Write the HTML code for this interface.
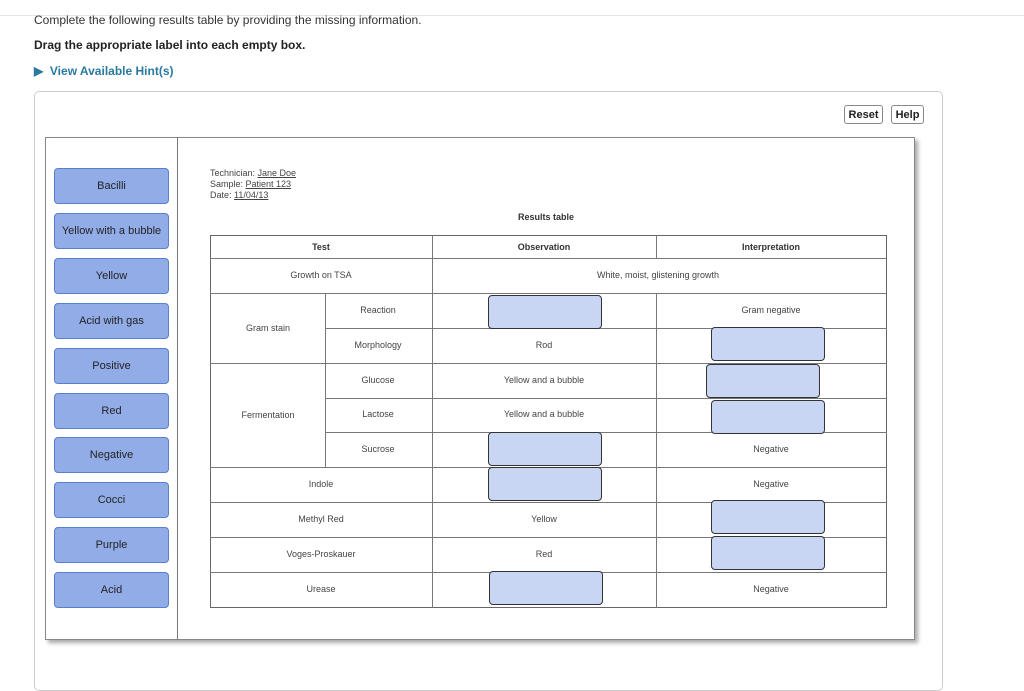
<!DOCTYPE html>
<html><head><meta charset="utf-8"><style>
*{box-sizing:border-box;margin:0;padding:0}
body{width:1024px;height:643px;background:#fff;position:relative;overflow:hidden;font-family:"Liberation Sans",Arial,sans-serif;color:#333}
.a{position:absolute}
.btn{position:absolute;left:54px;width:115px;height:36px;background:#92ace8;border:1px solid #5a7fcc;border-radius:4px;font-size:11px;color:#222;display:flex;align-items:center;justify-content:center}
.c{position:absolute;font-size:9px;color:#444;text-align:center;transform:translate(-50%,-50%);white-space:nowrap}
.b{font-weight:bold;color:#333}
.h{position:absolute;height:1px;background:#777}
.v{position:absolute;width:1px;background:#777}
.d{position:absolute;width:114px;height:34px;background:#c9d6f3;border:1px solid #333;border-radius:4px}
.rb{position:absolute;top:105px;height:19px;border:1px solid #888;border-radius:3px;font-size:11px;font-weight:bold;color:#222;display:flex;align-items:center;justify-content:center;background:#fff}
</style></head><body>
<div class="a" style="left:0;top:15px;width:1024px;height:1px;background:#e6e6e6"></div>
<div class="a" style="left:34px;top:13px;font-size:12px;color:#333">Complete the following results table by providing the missing information.</div>
<div class="a" style="left:34px;top:38px;font-size:12px;font-weight:bold;color:#222">Drag the appropriate label into each empty box.</div>
<div class="a" style="left:34px;top:64px;font-size:12px;font-weight:bold;color:#2a7aa0">&#9654;&nbsp; View Available Hint(s)</div>
<div class="a" style="left:34px;top:91px;width:909px;height:600px;border:1px solid #ccc;border-radius:5px"></div>
<div class="rb" style="left:844px;width:39px">Reset</div>
<div class="rb" style="left:891px;width:33px">Help</div>
<div class="a" style="left:45px;top:137px;width:870px;height:503px;border:1px solid #888;box-shadow:3px 3px 4px #aaa"></div>
<div class="v" style="left:177px;top:137px;height:503px"></div>
<div class="btn" style="top:168px">Bacilli</div>
<div class="btn" style="top:213px">Yellow with a bubble</div>
<div class="btn" style="top:258px">Yellow</div>
<div class="btn" style="top:303px">Acid with gas</div>
<div class="btn" style="top:348px">Positive</div>
<div class="btn" style="top:393px">Red</div>
<div class="btn" style="top:437px">Negative</div>
<div class="btn" style="top:482px">Cocci</div>
<div class="btn" style="top:527px">Purple</div>
<div class="btn" style="top:572px">Acid</div>
<div class="a" style="left:210px;top:168px;font-size:9px;line-height:11px;color:#444">Technician: <u>Jane Doe</u><br>Sample: <u>Patient 123</u><br>Date: <u>11/04/13</u></div>
<div class="c b" style="left:546px;top:217px">Results table</div>
<!-- table lines -->
<div class="a" style="left:210px;top:235px;width:677px;height:373px;border:1px solid #666"></div>
<div class="v" style="left:432px;top:235px;height:373px"></div>
<div class="v" style="left:656px;top:235px;height:24px"></div>
<div class="v" style="left:656px;top:293px;height:315px"></div>
<div class="v" style="left:325px;top:293px;height:174px"></div>
<div class="h" style="left:210px;top:258px;width:677px"></div>
<div class="h" style="left:210px;top:293px;width:677px"></div>
<div class="h" style="left:325px;top:328px;width:562px"></div>
<div class="h" style="left:210px;top:363px;width:677px"></div>
<div class="h" style="left:325px;top:398px;width:562px"></div>
<div class="h" style="left:325px;top:432px;width:562px"></div>
<div class="h" style="left:210px;top:467px;width:677px"></div>
<div class="h" style="left:210px;top:502px;width:677px"></div>
<div class="h" style="left:210px;top:537px;width:677px"></div>
<div class="h" style="left:210px;top:572px;width:677px"></div>
<div class="c b" style="left:321px;top:247px">Test</div>
<div class="c b" style="left:544px;top:247px">Observation</div>
<div class="c b" style="left:771px;top:247px">Interpretation</div>
<div class="c" style="left:321px;top:275px">Growth on TSA</div>
<div class="c" style="left:658px;top:275px">White, moist, glistening growth</div>
<div class="c" style="left:268px;top:328px">Gram stain</div>
<div class="c" style="left:378px;top:310px">Reaction</div>
<div class="c" style="left:378px;top:345px">Morphology</div>
<div class="c" style="left:268px;top:415px">Fermentation</div>
<div class="c" style="left:378px;top:380px">Glucose</div>
<div class="c" style="left:378px;top:414px">Lactose</div>
<div class="c" style="left:378px;top:449px">Sucrose</div>
<div class="c" style="left:321px;top:484px">Indole</div>
<div class="c" style="left:321px;top:519px">Methyl Red</div>
<div class="c" style="left:321px;top:554px">Voges-Proskauer</div>
<div class="c" style="left:321px;top:589px">Urease</div>
<div class="c" style="left:544px;top:345px">Rod</div>
<div class="c" style="left:544px;top:380px">Yellow and a bubble</div>
<div class="c" style="left:544px;top:414px">Yellow and a bubble</div>
<div class="c" style="left:544px;top:519px">Yellow</div>
<div class="c" style="left:544px;top:554px">Red</div>
<div class="c" style="left:771px;top:310px">Gram negative</div>
<div class="c" style="left:771px;top:449px">Negative</div>
<div class="c" style="left:771px;top:484px">Negative</div>
<div class="c" style="left:771px;top:589px">Negative</div>
<div class="d" style="left:488px;top:295px"></div>
<div class="d" style="left:488px;top:432px"></div>
<div class="d" style="left:488px;top:467px"></div>
<div class="d" style="left:489px;top:571px"></div>
<div class="d" style="left:711px;top:327px"></div>
<div class="d" style="left:706px;top:364px"></div>
<div class="d" style="left:711px;top:400px"></div>
<div class="d" style="left:711px;top:500px"></div>
<div class="d" style="left:711px;top:536px"></div>
</body></html>
